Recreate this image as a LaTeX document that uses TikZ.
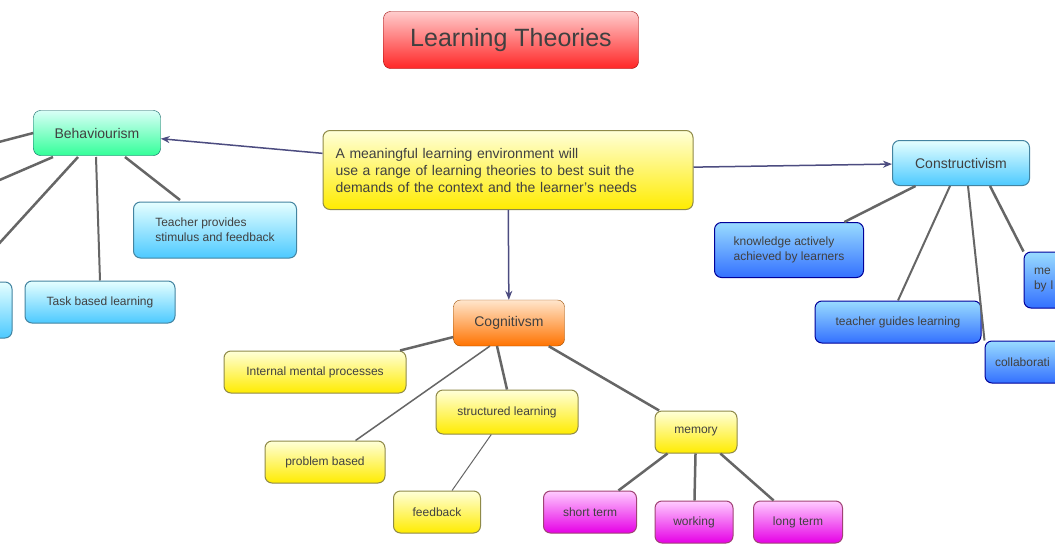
\documentclass[tikz,border=0pt]{standalone}
\usepackage{fontspec}
\setmainfont{Liberation Sans}
\usetikzlibrary{arrows.meta}
\begin{document}
\begin{tikzpicture}[x=1pt,y=-1pt,
  box/.style={rounded corners=7pt,minimum height=42pt,inner sep=0pt,align=left,font=\fontsize{12}{15}\selectfont,text=black!75},
  cyanbox/.style={box,draw=cyan!60!black,line width=1pt,top color=cyan!10,bottom color=cyan!70!blue!70},
  bluebox/.style={box,draw=blue!60!black,line width=1pt,top color=blue!35!cyan!40,bottom color=blue!70!cyan!80},
  yelbox/.style={box,draw=yellow!50!black,line width=1pt,top color=yellow!15,bottom color=yellow!85!orange},
  magbox/.style={box,draw=magenta!60!black,line width=1pt,top color=magenta!20,bottom color=magenta!80!violet},
  link/.style={draw=black!60,line width=2.5pt},
  thin/.style={draw=black!60,line width=1pt},
  arr/.style={draw=black!50!blue!40!gray,line width=1.5pt,-{Stealth[length=9pt,width=7pt]}}]
\clip (0,0) rectangle (1055,554);
\useasboundingbox (0,0) rectangle (1055,554);
\fill[white] (0,0) rectangle (1055,554);
% nodes
\node[box,draw=red!60!black,top color=red!20,bottom color=red!85,minimum width=255pt,minimum height=57pt,font=\fontsize{25}{30}\selectfont,align=center] (title) at (511,40) {Learning Theories};
\node[box,draw=teal!70!black,top color=green!20!cyan!15,bottom color=green!50!cyan!80,minimum width=127pt,minimum height=45pt,font=\fontsize{14}{17}\selectfont] (beh) at (97,133) {Behaviourism};
\node[yelbox,minimum width=370pt,minimum height=79pt,font=\fontsize{14}{17}\selectfont,text width=345pt] (cen) at (508,170) {A meaningful learning environment will\\use a range of learning theories to best suit the\\demands of the context and the learner's needs};
\node[cyanbox,minimum width=137pt,minimum height=45pt,font=\fontsize{14}{17}\selectfont] (con) at (961,163) {Constructivism};
\node[cyanbox,minimum width=163pt,minimum height=56pt] (tp) at (215,230) {Teacher provides\\stimulus and feedback};
\node[cyanbox,minimum width=150pt] (tb) at (100,302) {Task based learning};
\node[cyanbox,minimum width=140pt,minimum height=56pt] (lp) at (-58,310) {};
\node[box,draw=orange!60!black,top color=orange!20,bottom color=orange!90!red,minimum width=111pt,minimum height=46pt,font=\fontsize{14}{17}\selectfont] (cog) at (509,323) {Cognitivsm};
\node[yelbox,minimum width=182pt] (imp) at (315,372) {Internal mental processes};
\node[yelbox,minimum width=142pt,minimum height=44pt] (sl) at (507,412) {structured learning};
\node[yelbox,minimum width=120pt] (pb) at (325,462) {problem based};
\node[yelbox,minimum width=87pt] (fb) at (437,512) {feedback};
\node[yelbox,minimum width=82pt] (mem) at (696,432) {memory};
\node[magbox,minimum width=93pt] (st) at (590,512) {short term};
\node[magbox,minimum width=78pt] (wk) at (694,522) {working};
\node[magbox,minimum width=89pt] (lt) at (798,522) {long term};
\node[bluebox,minimum width=149pt,minimum height=55pt] (kn) at (789,250) {knowledge actively\\achieved by learners};
\node[bluebox,minimum width=166pt] (tg) at (898,322) {teacher guides learning};
\node[bluebox,minimum width=70pt,minimum height=56pt,text width=50pt] (me) at (1059,280) {me\\by l};
\node[bluebox,minimum width=110pt,text width=90pt] (col) at (1040,362) {collaborati};
\coordinate (e1) at (-5,143);
\coordinate (e2) at (-5,182);
\coordinate (e3) at (-5,248);
% links
\begin{scope}[on background layer/.style={}]
\end{scope}
\begin{pgfonlayer}{main}\end{pgfonlayer}
\draw[link] (beh.west) -- (e1);
\draw[link] (53,157) -- (e2);
\draw[link] (78,157) -- (e3);
\draw[thin,line width=2pt] (96,157) -- (tb.north);
\draw[link] (125,157) -- (180,200);
\draw[arr] (cen) -- (beh);
\draw[arr] (cen) -- (con);
\draw[arr] (cen) -- (cog);
\draw[link] (cog) -- (imp);
\draw[link] (497,346) -- (sl.north);
\draw[thin,line width=1.5pt] (490,346) -- (pb);
\draw[thin] (sl) -- (fb);
\draw[link] (cog) -- (mem);
\draw[link] (mem) -- (st);
\draw[link] (mem) -- (wk);
\draw[link] (mem) -- (lt);
\draw[link] (con) -- (kn);
\draw[thin,line width=2pt] (950,186) -- (tg.north);
\draw[thin,line width=2pt] (968,186) -- (col.north west);
\draw[link] (990,186) -- (me.north west);
% redraw nodes over links
\foreach \n in {beh,con,cog,imp,sl,pb,fb,mem,st,wk,lt,kn,tg,me,col,tb,tp,lp}{}
\end{tikzpicture}
\end{document}
